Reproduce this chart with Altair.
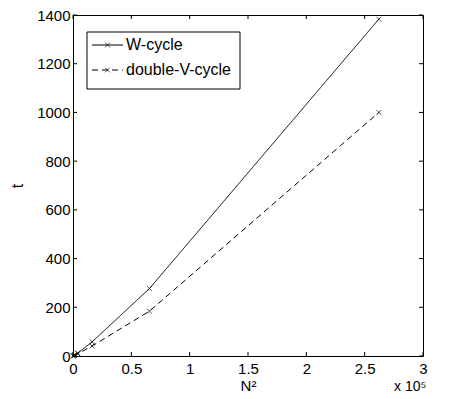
import altair as alt
import pandas as pd

# ---- data ----
n2 = [256, 1024, 4096, 16384, 65536, 262144]
w_cycle = [0.5, 2, 12, 58, 277, 1383]
double_v = [0.4, 1.5, 9, 41, 184, 1000]
x_ticks = [0, 0.5, 1, 1.5, 2, 2.5, 3]
y_ticks = [0, 200, 400, 600, 800, 1000, 1200, 1400]
series_names = ["W-cycle", "double-V-cycle"]

W, H = 350, 341
FONT = "Liberation Sans"

rows = []
for n, a, b in zip(n2, w_cycle, double_v):
    rows.append({"x": n / 1e5, "t": a, "s": series_names[0]})
    rows.append({"x": n / 1e5, "t": b, "s": series_names[1]})
df = pd.DataFrame(rows)

xs = alt.Scale(domain=[0, 3], nice=False, zero=False)
ys = alt.Scale(domain=[0, 1400], nice=False, zero=False)

xaxis = alt.Axis(values=x_ticks, tickSize=0, domain=False, grid=False, format="~g",
                 labelFont=FONT, labelFontSize=15, labelColor="black", labelPadding=5,
                 title="N²", titleFont=FONT, titleFontSize=15, titleFontWeight="normal",
                 titleColor="black", titlePadding=2, labelFlush=False)
yaxis = alt.Axis(values=y_ticks, tickSize=0, domain=False, grid=False, format="d",
                 labelFont=FONT, labelFontSize=15, labelColor="black", labelPadding=3,
                 title="t", titleFont=FONT, titleFontSize=16, titleFontWeight="normal",
                 titleColor="black", titlePadding=11, labelFlush=False)

cross = "M-1,-1L1,1M-1,1L1,-1"

base = alt.Chart(df)
lines = base.mark_line(color="black", strokeWidth=1).encode(
    x=alt.X("x:Q", scale=xs, axis=xaxis),
    y=alt.Y("t:Q", scale=ys, axis=yaxis),
    strokeDash=alt.StrokeDash("s:N", scale=alt.Scale(domain=series_names, range=[[1, 0], [6, 4]]), legend=None),
    detail="s:N",
)
pts = base.mark_point(shape=cross, size=22, color="black", strokeWidth=1, filled=False).encode(
    x=alt.X("x:Q", scale=xs), y=alt.Y("t:Q", scale=ys)
)

xt = alt.Chart(pd.DataFrame({"v": x_ticks}))
yt = alt.Chart(pd.DataFrame({"v": y_ticks}))
tick_style = dict(color="black", strokeWidth=1)
tb = xt.mark_rule(**tick_style).encode(x=alt.X("v:Q", scale=xs), y=alt.value(H), y2=alt.value(H - 4))
tt = xt.mark_rule(**tick_style).encode(x=alt.X("v:Q", scale=xs), y=alt.value(0), y2=alt.value(4))
tl = yt.mark_rule(**tick_style).encode(y=alt.Y("v:Q", scale=ys), x=alt.value(0), x2=alt.value(4))
tr = yt.mark_rule(**tick_style).encode(y=alt.Y("v:Q", scale=ys), x=alt.value(W), x2=alt.value(W - 4))

# legend
lx0, lx1, ly0, ly1 = 14, 167, 17, 74
row_y = [30, 55]
legbox = alt.Chart(pd.DataFrame({"a": [0]})).mark_rect(fill="white", stroke="black", strokeWidth=1).encode(
    x=alt.value(lx0), x2=alt.value(lx1), y=alt.value(ly0), y2=alt.value(ly1))
leg_l1 = alt.Chart(pd.DataFrame({"a": [0]})).mark_rule(color="black", strokeWidth=1).encode(
    x=alt.value(19), x2=alt.value(50), y=alt.value(row_y[0]))
leg_l2 = alt.Chart(pd.DataFrame({"a": [0]})).mark_rule(color="black", strokeWidth=1, strokeDash=[6, 4]).encode(
    x=alt.value(19), x2=alt.value(50), y=alt.value(row_y[1]))
leg_p = alt.Chart(pd.DataFrame({"y": row_y})).mark_point(shape=cross, size=22, color="black", strokeWidth=1).encode(
    x=alt.value(34.5), y=alt.Y("y:Q", scale=None))
leg_t = alt.Chart(pd.DataFrame({"s": series_names, "y": row_y})).mark_text(
    align="left", baseline="middle", font=FONT, fontSize=16, color="black").encode(
    x=alt.value(53), y=alt.Y("y:Q", scale=None), text="s:N")

exp_t = alt.Chart(pd.DataFrame({"a": [0]})).mark_text(
    align="left", baseline="middle", font=FONT, fontSize=14, color="black", text="x 10⁵").encode(
    x=alt.value(321), y=alt.value(372))

chart = alt.layer(lines, pts, tb, tt, tl, tr, legbox, leg_l1, leg_l2, leg_p, leg_t, exp_t).properties(
    width=W, height=H,
    autosize=alt.AutoSizeParams(type="none"),
    padding={"left": 65, "top": 7, "right": 40, "bottom": 45},
).configure(background="white", view=alt.ViewConfig(stroke="black", strokeWidth=1))

chart.save("out.html", embed_options={"renderer": "svg", "actions": False})
